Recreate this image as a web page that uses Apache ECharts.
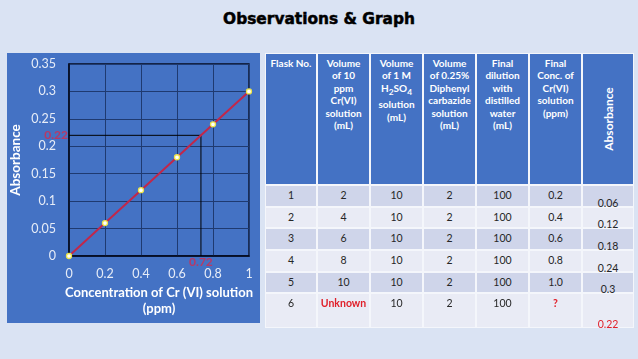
<!DOCTYPE html>
<html><head><meta charset="utf-8">
<script src="https://cdn.jsdelivr.net/npm/echarts@6/dist/echarts.min.js"></script>
<style>
html,body{margin:0;padding:0;width:638px;height:359px;background:#dae3f3;overflow:hidden;}
#title{position:absolute;left:0;top:8px;width:638px;text-align:center;font-family:"DejaVu Sans";font-weight:bold;font-size:15.4px;line-height:22px;color:#000;-webkit-text-stroke:0.5px #000;}
#panel{position:absolute;left:7px;top:53px;width:253px;height:270px;background:#4472c4;}
#chart{position:absolute;left:0;top:0;width:638px;height:359px;}
#table{position:absolute;left:0;top:0;width:638px;height:359px;font-family:Lato;}
.cell{position:absolute;box-sizing:border-box;}
.txt{position:absolute;left:0;width:100%;text-align:center;white-space:nowrap;}
</style></head><body>
<div id="title">Observations &amp; Graph</div>
<div id="panel"></div>
<div id="chart"></div>
<div id="table"></div>
<script>
// ---- chart data ----
const concentrations = [0, 0.2, 0.4, 0.6, 0.8, 1.0];
const absorbances = [0, 0.06, 0.12, 0.18, 0.24, 0.3];
const unknownAbs = 0.22;
const unknownConc = 0.733;
const unknownConcLabel = '0.72';
const unknownAbsLabel = '0.22';
const xTicks = [0, 0.2, 0.4, 0.6, 0.8, 1];
const yTicks = [0, 0.05, 0.1, 0.15, 0.2, 0.25, 0.3, 0.35];

// ---- table data ----
const headers = [
  ['Flask No.'],
  ['Volume','of 10','ppm','Cr(VI)','solution','(mL)'],
  ['Volume','of 1 M','H<sub>2</sub>SO<sub>4</sub>','solution','(mL)'],
  ['Volume','of 0.25%','Diphenyl','carbazide','solution','(mL)'],
  ['Final','dilution','with','distilled','water','(mL)'],
  ['Final','Conc. of','Cr(VI)','solution','(ppm)'],
  ['Absorbance']
];
const flaskNo = ['1','2','3','4','5','6'];
const volCr = ['2','4','6','8','10','Unknown'];
const volH2SO4 = ['10','10','10','10','10','10'];
const volDPC = ['2','2','2','2','2','2'];
const finalDilution = ['100','100','100','100','100','100'];
const finalConc = ['0.2','0.4','0.6','0.8','1.0','?'];
const absText = ['0.06','0.12','0.18','0.24','0.3','0.22'];

const chart = echarts.init(document.getElementById('chart'), null, {renderer:'canvas'});
const lblColor = '#e6ecf7';
const option = {
  animation:false,
  grid:{left:69, top:64, width:180, height:192, show:true, borderColor:'#050a1c', borderWidth:1.3, containLabel:false},
  xAxis:{type:'value', min:0, max:1, interval:0.2,
    name:'Concentration of Cr (VI) solution\n(ppm)', nameLocation:'middle', nameGap:28,
    nameTextStyle:{color:'#ffffff', fontFamily:'Lato', fontWeight:'bold', fontSize:13, lineHeight:16},
    axisLine:{show:true, lineStyle:{color:'#050a1c', width:1.5}}, axisTick:{show:false},
    axisLabel:{color:lblColor, fontFamily:'Lato', fontSize:12.5, margin:11},
    splitLine:{show:true, lineStyle:{color:'#1f3a70', width:1}}},
  yAxis:{type:'value', min:0, max:0.35, interval:0.05,
    name:'Absorbance', nameLocation:'middle', nameGap:46, nameRotate:90,
    nameTextStyle:{color:'#ffffff', fontFamily:'Lato', fontWeight:'bold', fontSize:13.5},
    axisLine:{show:true, lineStyle:{color:'#050a1c', width:1.5}}, axisTick:{show:false},
    axisLabel:{color:lblColor, fontFamily:'Lato', fontSize:12.5, margin:13},
    splitLine:{show:true, lineStyle:{color:'#1f3a70', width:1}}},
  series:[
    {type:'line', data:[[0,unknownAbs],[unknownConc,unknownAbs],[unknownConc,0]], symbol:'none',
     lineStyle:{color:'#000', width:1}, z:3, silent:true},
    {type:'line', data:concentrations.map((c,i)=>[c,absorbances[i]]), symbol:'circle', symbolSize:5,
     lineStyle:{color:'#c2274a', width:2}, itemStyle:{color:'#ffffff', borderColor:'#ece44a', borderWidth:1.3}, z:5},
    {type:'scatter', data:[[0,unknownAbs]], symbolSize:0, clip:false,
     label:{show:true, position:'left', distance:1, formatter:unknownAbsLabel, color:'#d42a4e', fontFamily:'Lato', fontWeight:'bold', fontSize:12}, z:6},
    {type:'scatter', data:[[unknownConc,0]], symbolSize:0, clip:false,
     label:{show:true, position:'bottom', distance:0, formatter:unknownConcLabel, color:'#d42a4e', fontFamily:'Lato', fontWeight:'bold', fontSize:12}, z:6}
  ]
};
chart.setOption(option);

// ---- table layout ----
const colX = [265,317,370,423,476,529,582,634];
const rowY = [53,185,207,228,250,272,293,328];
const tbl = document.getElementById('table');
function cell(x0,y0,x1,y1,bg){
  const d=document.createElement('div'); d.className='cell';
  d.style.left=(x0+0.75)+'px'; d.style.top=(y0+0.75)+'px';
  d.style.width=(x1-x0-1.5)+'px'; d.style.height=(y1-y0-1.5)+'px';
  d.style.background=bg; tbl.appendChild(d); return d;
}
const back=document.createElement('div'); back.className='cell';
back.style.left=colX[0]+'px'; back.style.top=rowY[0]+'px';
back.style.width=(colX[7]-colX[0])+'px'; back.style.height=(rowY[7]-rowY[0])+'px';
back.style.background='#f4f6fb'; tbl.appendChild(back);

headers.forEach((lines,c)=>{
  const d=cell(colX[c],rowY[0],colX[c+1],rowY[1],'#4472c4');
  if(c===6){
    const t=document.createElement('div');
    t.style.cssText='position:absolute;left:50%;top:50%;transform:translate(-50%,-50%) rotate(-90deg);color:#fff;font-weight:bold;font-size:12px;white-space:nowrap;';
    t.textContent=lines[0]; d.appendChild(t);
  } else {
    const t=document.createElement('div'); t.className='txt';
    t.style.cssText+='top:3px;color:#fff;font-weight:bold;font-size:10px;line-height:12.5px;';
    t.innerHTML=lines.join('<br>'); d.appendChild(t);
  }
});
const cols=[flaskNo,volCr,volH2SO4,volDPC,finalDilution,finalConc,absText];
for(let r=0;r<6;r++){
  const bg = (r%2===0)?'#cfd5ea':'#e9ebf5';
  for(let c=0;c<7;c++){
    const d=cell(colX[c],rowY[r+1],colX[c+1],rowY[r+2],bg);
    const t=document.createElement('div'); t.className='txt';
    let v=cols[c][r];
    let color='#262626', weight='normal';
    if(v==='Unknown'||v==='?'){color='#e0202a';weight='bold';}
    if(c===6 && r===5){color='#e0202a';}
    if(c===6){ t.style.cssText+='bottom:-3px;'; }
    else { t.style.cssText+='top:3px;'; }
    t.style.cssText+='color:'+color+';font-weight:'+weight+';font-size:10.5px;line-height:12px;';
    t.textContent=v; d.appendChild(t);
  }
}
</script>
</body></html>
